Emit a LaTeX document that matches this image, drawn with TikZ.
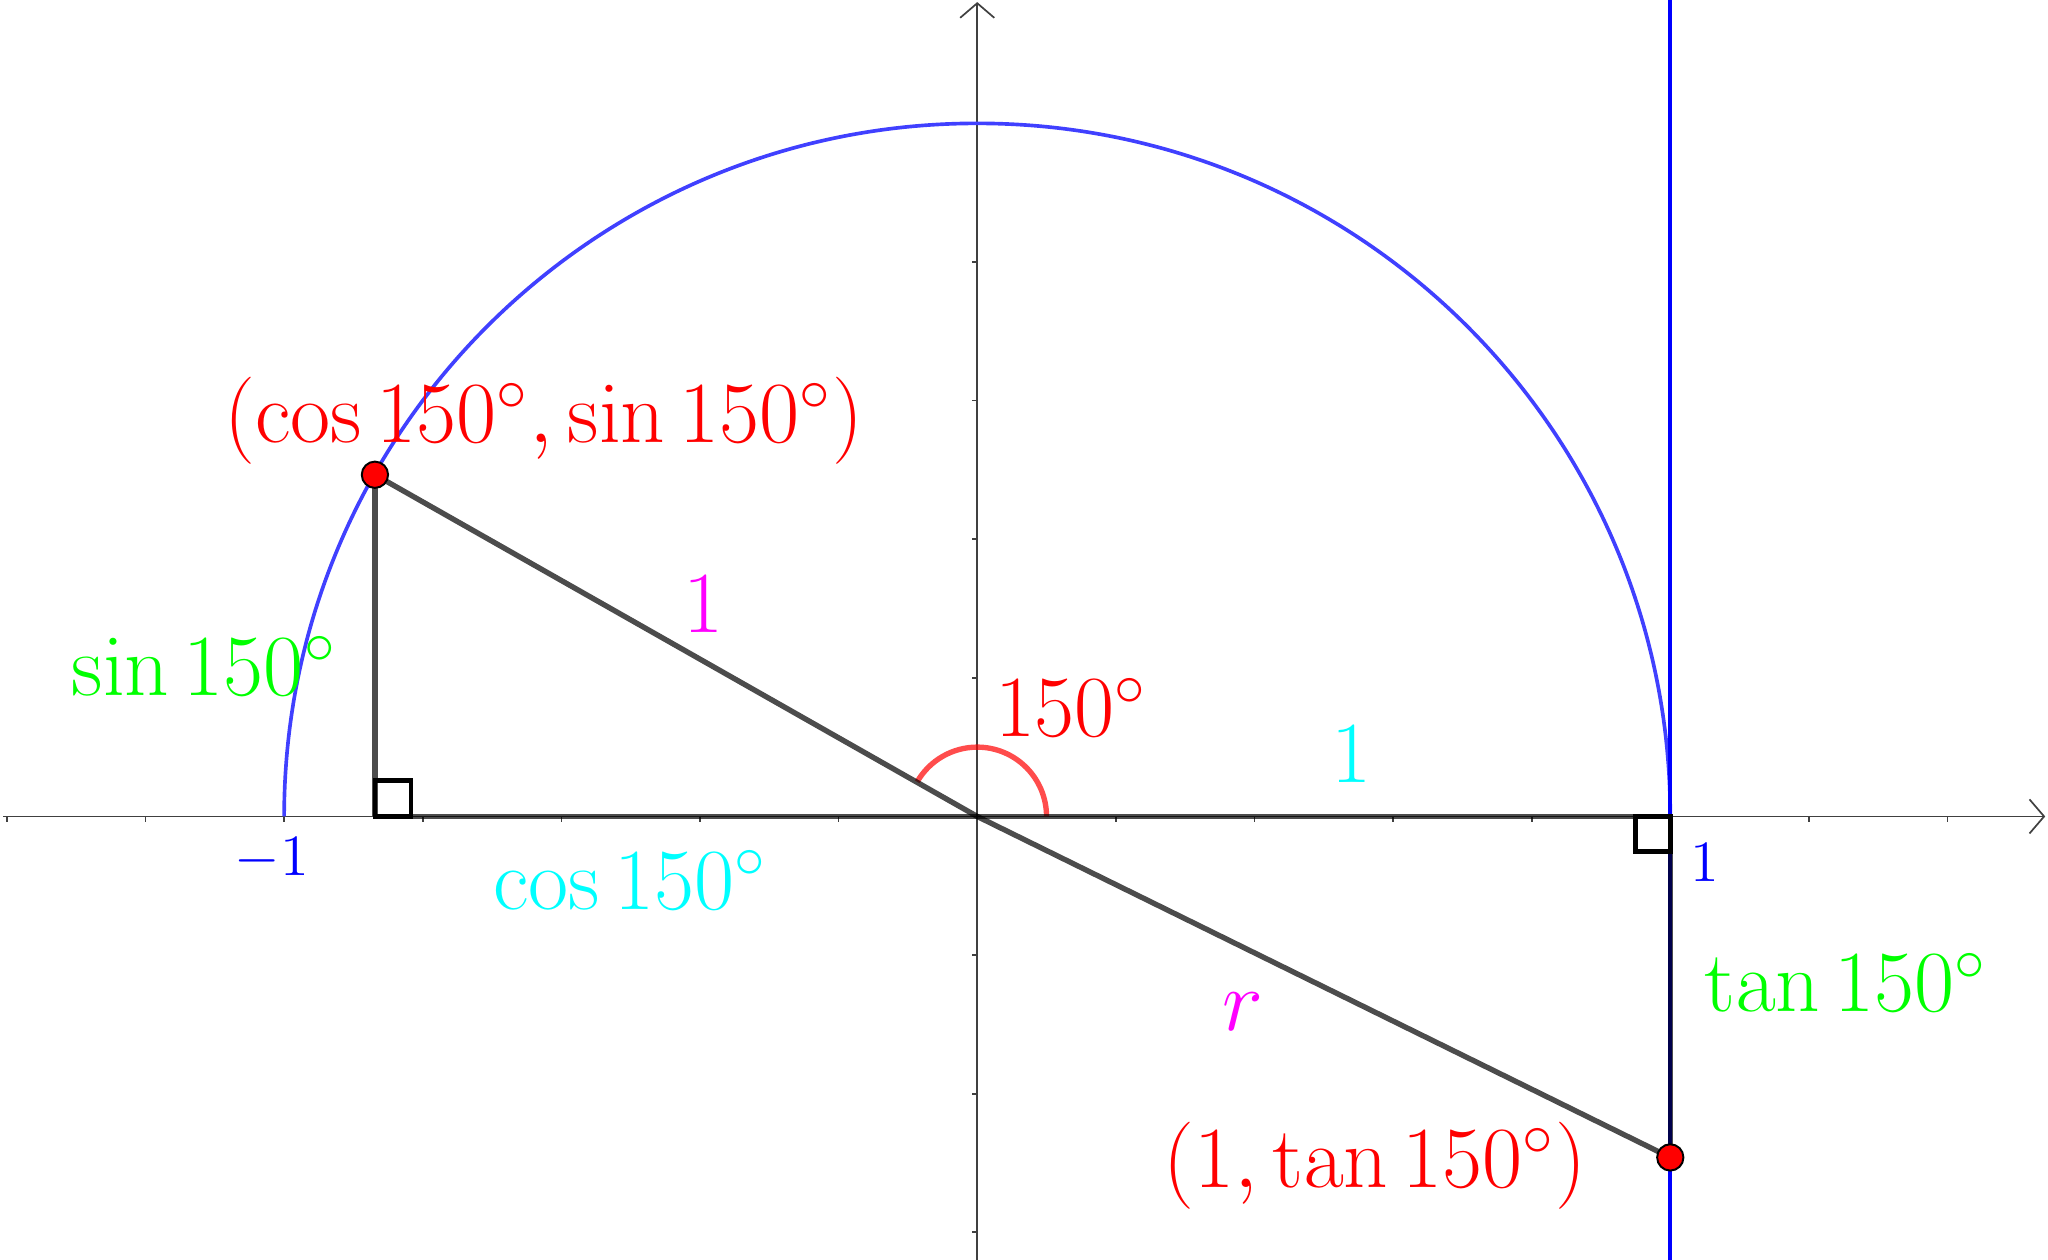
\RequirePackage{fix-cm}
\documentclass[tikz,border=0pt]{standalone}
\usetikzlibrary{arrows.meta}
\usepackage{xcolor}

\definecolor{lblred}{RGB}{255,0,0}
\definecolor{lblgreen}{RGB}{0,255,0}
\definecolor{lblcyan}{RGB}{0,255,255}
\definecolor{lblmag}{RGB}{255,0,255}

\begin{document}
\begin{tikzpicture}[x=5cm,y=5cm,
    axis/.style={draw=black!75, line width=0.35pt, -{Straight Barb[length=3pt,width=7pt]}},
    seg/.style={draw=black, draw opacity=0.7, line width=1.1pt},
    rightang/.style={draw=black, line width=1pt},
    dot/.style={circle, fill=red, draw=black, line width=0.4pt, inner sep=0pt, minimum size=5.4pt},
    biglbl/.style={font=\fontsize{17.9}{21}\selectfont, anchor=base, inner sep=0pt},
    ticklbl/.style={font=\fontsize{12}{14}\selectfont, anchor=base, inner sep=0pt, text=blue}]
    \useasboundingbox (-1.41,-0.64) rectangle (1.545,1.178);

    % axes
    \draw[axis] (-1.405,0) -- (1.541,0);
    \draw[axis] (0,-0.64) -- (0,1.175);
    \foreach \i in {-7,...,-1,1,2,...,7}
        \draw[black!75, line width=0.35pt] (\i*0.2,0) -- (\i*0.2,-0.008);
    \foreach \i in {-3,...,-1,1,2,...,5}
        \draw[black!75, line width=0.35pt] (0,\i*0.2) -- (-0.008,\i*0.2);

    % points
    \coordinate (O) at (0,0);
    \coordinate (P) at (-0.869,0.493);
    \coordinate (F) at (-0.869,0);
    \coordinate (A) at (1,0);
    \coordinate (Q) at (1,-0.492);

    % unit circle and tangent line
    \draw[blue!75, line width=0.75pt] (1,0) arc (0:180:1);
    \draw[blue, line width=0.75pt] (1,-0.64) -- (1,1.178);

    % angle
    \draw[red, draw opacity=0.7, line width=1.1pt] (0.1,0) arc (0:150:0.1);

    % triangles
    \draw[seg] (P) -- (O);
    \draw[seg] (P) -- (F);
    \draw[seg] (F) -- (A);
    \draw[seg] (O) -- (Q);
    \draw[seg] (A) -- (Q);
    \draw[rightang] (F) rectangle ++(0.052,0.052);
    \draw[rightang] (A) rectangle ++(-0.05,-0.05);

    \node[dot] (p) at (P) {};
    \node[dot] (q) at (Q) {};

    % labels
    \node[biglbl, text=lblred] (pl) at (-0.625,0.540) {$(\cos 150^\circ, \sin 150^\circ)$};
    \node[biglbl, text=lblred] (ql) at (0.574,-0.535) {$(1, \tan 150^\circ)$};
    \node[biglbl, text=lblred] (al) at (0.136,0.115) {$150^\circ$};
    \node[biglbl, text=lblmag] (one) at (-0.395,0.266) {$1$};
    \node[biglbl, text=lblmag] (rl) at (0.384,-0.309) {$r$};
    \node[biglbl, text=lblcyan] (onex) at (0.540,0.049) {$1$};
    \node[biglbl, text=lblcyan] (cl) at (-0.500,-0.134) {$\cos 150^\circ$};
    \node[biglbl, text=lblgreen] (sl) at (-1.115,0.175) {$\sin 150^\circ$};
    \node[biglbl, text=lblgreen] (tl) at (1.254,-0.282) {$\tan 150^\circ$};
    \node[ticklbl] (m1) at (-1.018,-0.085) {$-1$};
    \node[ticklbl] (p1) at (1.050,-0.094) {$1$};
\end{tikzpicture}
\end{document}
